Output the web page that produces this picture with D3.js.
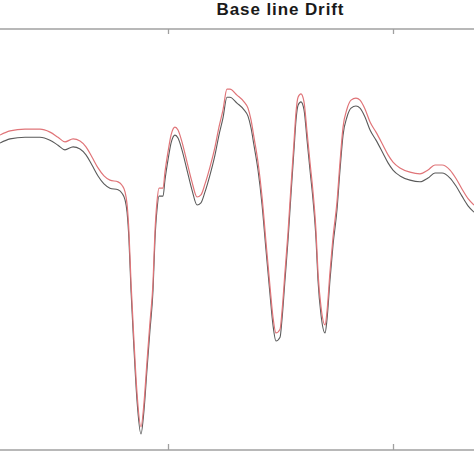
<!DOCTYPE html>
<html>
<head>
<meta charset="utf-8">
<script src="https://cdn.jsdelivr.net/npm/d3@7"></script>
<style>
  html, body { margin: 0; padding: 0; background: #fff; }
  svg { display: block; }
</style>
</head>
<body>
<div id="chart"></div>
<script>
// Sample index (x) shared by both curves
const samples = [50.7, 59.6, 72.9, 86.2, 95.1, 102.2, 108.4, 115.6, 121.8, 127.1,
  132.4, 137.8, 143.1, 148.4, 155.6, 159.1, 161.8, 163.6, 165.3, 167.1,
  169.8, 172.4, 176.0, 178.7, 181.3, 184.0, 186.7, 188.4, 190.2, 192.0,
  195.6, 197.3, 200.0, 202.7, 206.2, 208.9, 212.4, 216.9, 221.3, 225.8,
  229.3, 232.9, 237.3, 241.8, 245.3, 248.9, 252.4, 255.1, 261.3, 267.6,
  271.1, 273.8, 276.4, 280.0, 283.6, 287.1, 290.7, 293.3, 296.0, 299.6,
  301.3, 304.0, 306.7, 309.3, 312.0, 313.8, 315.6, 318.2, 320.9, 323.6,
  326.2, 328.9, 331.6, 333.3, 336.0, 339.6, 341.3, 344.0, 346.7, 350.2,
  352.9, 355.6, 359.1, 362.7, 367.1, 370.7, 375.1, 379.6, 384.9, 391.1,
  395.6, 400.0, 406.2, 415.1, 424.0, 431.1, 437.3, 443.6, 450.7, 456.0,
  461.3, 466.7, 472.0];

// Original signal
const original = [72.9, 73.9, 74.3, 74.3, 73.6, 72.4, 71.3, 72.0, 71.5, 70.1,
  67.7, 65.1, 63.2, 62.2, 61.8, 61.0, 59.4, 56.5, 49.9, 38.0,
  23.8, 11.9, 3.8, 9.5, 19.0, 28.5, 38.0, 49.9, 57.0, 60.3,
  60.3, 64.1, 68.9, 72.9, 74.8, 74.1, 71.3, 66.5, 61.8, 58.2,
  58.7, 61.3, 65.3, 70.1, 74.8, 78.9, 83.8, 83.8, 82.4, 80.8,
  79.3, 76.5, 72.4, 66.5, 58.2, 47.5, 36.8, 29.7, 25.9, 26.8,
  30.9, 40.4, 49.9, 60.6, 71.3, 78.4, 81.9, 82.7, 80.8, 73.6,
  66.5, 59.4, 49.9, 40.4, 32.1, 27.8, 30.9, 40.4, 48.7, 57.0,
  66.5, 74.8, 79.1, 81.2, 81.7, 81.2, 79.1, 76.0, 73.6, 70.5,
  68.2, 66.5, 65.1, 64.1, 63.7, 64.6, 65.8, 65.8, 64.6, 62.7,
  60.3, 58.0, 56.5];

// Signal with base line drift
const drifted = [74.8, 75.8, 76.2, 76.2, 75.5, 74.3, 73.2, 73.9, 73.4, 72.0,
  69.6, 67.0, 65.1, 64.1, 63.7, 62.9, 61.3, 58.4, 51.8, 39.9,
  25.7, 13.7, 5.5, 11.3, 20.9, 30.4, 39.9, 51.8, 58.9, 62.2,
  62.2, 66.0, 70.8, 74.8, 76.7, 76.0, 73.2, 68.4, 63.7, 60.1,
  60.6, 63.2, 67.2, 72.0, 76.7, 80.8, 85.7, 85.7, 84.3, 82.7,
  81.2, 78.4, 74.3, 68.4, 60.1, 49.4, 38.7, 31.6, 27.8, 28.7,
  32.8, 42.3, 51.8, 62.5, 73.2, 80.3, 83.8, 84.6, 82.7, 75.5,
  68.4, 61.3, 51.8, 42.3, 34.0, 29.7, 32.8, 42.3, 50.6, 58.9,
  68.4, 76.7, 81.0, 83.1, 83.6, 83.1, 81.0, 77.9, 75.5, 72.4,
  70.1, 68.4, 67.0, 66.0, 65.6, 66.5, 67.7, 67.7, 66.5, 64.5,
  62.0, 59.7, 58.2];

const xTicks = [200, 400];
const titleText = "Base line Drift";

const W = 474, H = 474;
const plotTop = 29, plotBottom = 450;

const svg = d3.select("#chart").append("svg")
    .attr("width", W)
    .attr("height", H);

// x: 200 -> 168px, 400 -> 393px
const x = d3.scaleLinear().domain([200, 400]).range([168, 393]);
const y = d3.scaleLinear().domain([0, 100]).range([plotBottom, plotTop]);

// axes box (top and bottom lines with inward ticks)
svg.append("g")
    .attr("transform", `translate(0,${plotTop})`)
    .call(d3.axisTop(x).tickValues(xTicks).tickSize(-5).tickFormat(""))
    .call(g => g.select(".domain").attr("d", `M-2,0H${W + 2}`))
    .call(g => g.selectAll("line, path").attr("stroke", "#a0a0a0").attr("stroke-width", 1.3));

svg.append("g")
    .attr("transform", `translate(0,${plotBottom})`)
    .call(d3.axisBottom(x).tickValues(xTicks).tickSize(-6).tickFormat(""))
    .call(g => g.select(".domain").attr("d", `M-2,0H${W + 2}`))
    .call(g => g.selectAll("line, path").attr("stroke", "#a0a0a0").attr("stroke-width", 1.3));

const line = d3.line()
    .x((d, i) => x(samples[i]))
    .y(d => y(d))
    .curve(d3.curveMonotoneX);

svg.append("path")
    .datum(original)
    .attr("fill", "none")
    .attr("stroke", "#5a5a5a")
    .attr("stroke-width", 1.1)
    .attr("d", line);

svg.append("path")
    .datum(drifted)
    .attr("fill", "none")
    .attr("stroke", "#e07478")
    .attr("stroke-width", 1.2)
    .attr("d", line);

// title
svg.append("text")
    .attr("x", 280)
    .attr("y", 15)
    .attr("text-anchor", "middle")
    .style("font-family", "'Liberation Sans', Arial, sans-serif")
    .style("font-size", "17px")
    .style("font-weight", "bold")
    .attr("textLength", 127)
    .attr("fill", "#1a1a1a")
    .text(titleText);
</script>
</body>
</html>
